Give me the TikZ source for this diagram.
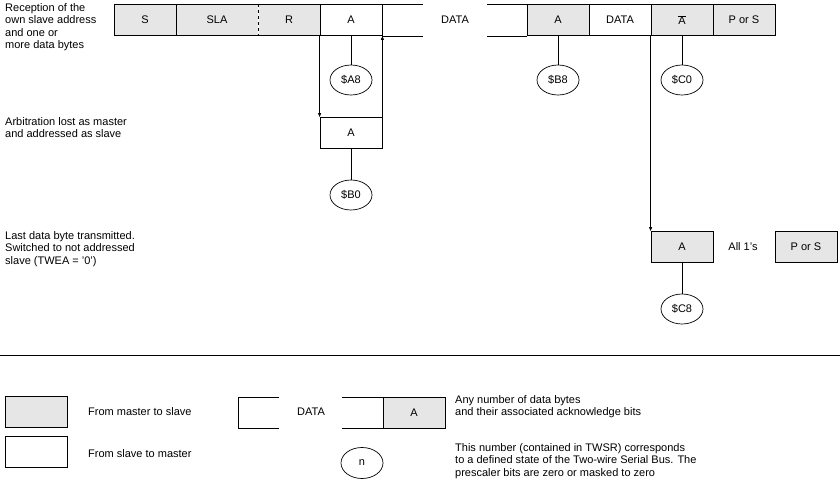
\documentclass[tikz,border=0pt]{standalone}
\usepackage{fontspec}
\setmainfont{Liberation Sans}
\usetikzlibrary{arrows.meta,shapes.geometric}
\definecolor{gr}{RGB}{230,230,230}
\begin{document}
\begin{tikzpicture}[x=1pt,y=-1pt,font=\fontsize{11}{12.5}\selectfont,
  m/.style={draw,fill=gr,minimum width=62pt,minimum height=31pt,inner sep=0pt,line width=0.8pt},
  s/.style={draw,fill=white,minimum width=62pt,minimum height=31pt,inner sep=0pt,line width=0.8pt},
  st/.style={draw,ellipse,minimum width=42pt,minimum height=30pt,inner sep=0pt,line width=0.7pt},
  lbl/.style={align=left,anchor=north west,inner sep=0pt},
  ar/.style={-{Triangle[length=4pt,width=3pt]},line width=0.7pt},
  ln/.style={line width=0.7pt}]
\useasboundingbox (0,0) rectangle (840,492);
% top row
\node[m] (S) at (145,20) {S};
\node[m,minimum width=82pt] (SLA) at (217,20) {SLA};
\node[m] (R) at (289,20) {R};
\draw[white,line width=1pt] (258,5) -- (258,35);
\draw[dashed,line width=0.8pt] (258,4) -- (258,36);
\node[s] (A1) at (351,20) {A};
\node[inner sep=0pt] (D1) at (455,20) {DATA};
\draw[line width=0.8pt] (423,4) -- (382,4) -- (382,36) -- (423,36);
\draw[line width=0.8pt] (487,4) -- (527,4);
\draw[line width=0.8pt] (487,36) -- (527,36);
\node[m] (A2) at (558,20) {A};
\node[s] (D2) at (620,20) {DATA};
\node[m] (NA) at (682,20) {$\overline{\mbox{A}}$};
\node[m] (P1) at (744,20) {P or S};
% states
\node[st] (sA8) at (351,80) {\$A8};
\node[st] (sB8) at (558,80) {\$B8};
\node[st] (sC0) at (682,80) {\$C0};
\draw[ln] (A1.south) -- (sA8);
\draw[ln] (A2.south) -- (sB8);
\draw[ln] (NA.south) -- (sC0);
% arbitration
\node[s] (A3) at (351,133) {A};
\draw[ar] (A1.south west) -- (A3.north west);
\draw[ar] (A3.north east) -- (A1.south east);
\node[st] (sB0) at (351,195) {\$B0};
\draw[ln] (A3.south) -- (sB0);
% last byte
\node[m] (A4) at (682,247) {A};
\draw[ar] (NA.south west) -- (A4.north west);
\node (all) at (743,247) {All 1's};
\node[m] (P2) at (806,247) {P or S};
\node[st] (sC8) at (682,309) {\$C8};
\draw[ln] (A4.south) -- (sC8);
% left texts
\node[lbl] at (5,3) {Reception of the\\own slave address\\and one or\\more data bytes};
\node[lbl] at (5,117) {Arbitration lost as master\\and addressed as slave};
\node[lbl] at (5,231) {Last data byte transmitted.\\Switched to not addressed\\slave (TWEA = '0')};
% separator
\draw[line width=0.8pt] (0,355) -- (840,355);
% legend
\node[m] (Lm) at (36,412) {};
\node[lbl,anchor=west] at (88,412) {From master to slave};
\node[s] (Ls) at (36,452) {};
\node[lbl,anchor=west] at (88,454) {From slave to master};
\node[inner sep=0pt] (LD) at (311,412) {DATA};
\draw[line width=0.8pt] (279,397) -- (238,397) -- (238,428) -- (279,428);
\draw[line width=0.8pt] (342,397) -- (383,397);
\draw[line width=0.8pt] (342,428) -- (383,428);
\node[m] (LA) at (414,412.5) {A};
\node[st,minimum width=42pt,minimum height=31pt] (Ln) at (362,463) {n};
\node[lbl] at (455,395) {Any number of data bytes\\and their associated acknowledge bits};
\node[lbl] at (455,443) {This number (contained in TWSR) corresponds\\to a defined state of the Two-wire Serial Bus. The\\prescaler bits are zero or masked to zero};
\end{tikzpicture}
\end{document}
